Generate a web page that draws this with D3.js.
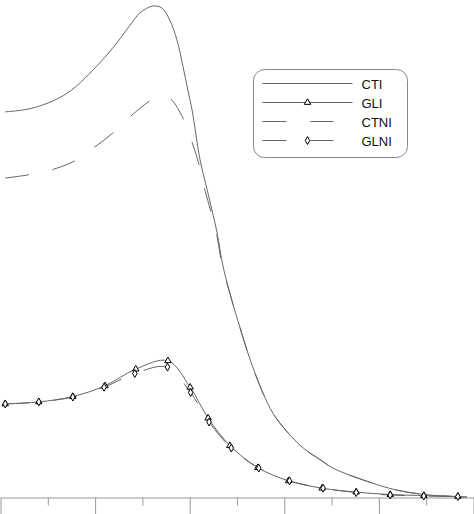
<!DOCTYPE html>
<html>
<head>
<meta charset="utf-8">
<script src="https://cdn.jsdelivr.net/npm/d3@7"></script>
<style>
  body { margin: 0; background: #fff; }
  svg { display: block; }
</style>
</head>
<body>
<svg id="chart"></svg>
<script>
// values; x in axis units (major tick every 2), y normalised to the CTI peak
var ctiX = [0.11, 0.70, 1.42, 2.11, 2.47, 2.75, 2.96, 3.23, 3.42, 3.59, 3.74, 3.87, 3.97, 4.06, 4.23, 4.38, 4.48,
            4.59, 4.71, 4.90, 5.07, 5.22, 5.39, 5.56, 5.77, 6.07, 6.41, 6.77, 7.04, 7.67, 8.39, 9.09, 9.87];
var ctiY = [0.786, 0.794, 0.824, 0.886, 0.927, 0.963, 0.988, 1.002, 0.998, 0.973, 0.933, 0.878, 0.831, 0.790, 0.688, 0.627, 0.586,
            0.539, 0.473, 0.402, 0.347, 0.300, 0.253, 0.212, 0.171, 0.133, 0.100, 0.076, 0.059, 0.035, 0.014, 0.004, 0.000];

var ctniX = [0.11, 0.57, 1.06, 1.54, 1.97, 2.39, 2.75, 3.13, 3.38, 3.59, 3.87, 4.06, 4.21, 4.33, 4.46, 4.59, 4.69,
             4.90, 5.07, 5.22, 5.39, 5.56, 5.77, 6.07, 6.41, 6.77, 7.04, 7.67, 8.39, 9.09, 9.87];
var ctniY = [0.651, 0.657, 0.667, 0.684, 0.712, 0.743, 0.776, 0.806, 0.820, 0.814, 0.773, 0.724, 0.678, 0.627, 0.582, 0.531, 0.476,
             0.402, 0.347, 0.300, 0.253, 0.212, 0.171, 0.133, 0.100, 0.076, 0.059, 0.035, 0.014, 0.004, 0.000];

var gliX = [0.11, 0.82, 1.54, 2.22, 2.87, 3.55, 4.02, 4.40, 4.86, 5.45, 6.10, 6.81, 7.53, 8.25, 8.96, 9.68];
var gliY = [0.190, 0.194, 0.205, 0.227, 0.261, 0.278, 0.224, 0.161, 0.105, 0.060, 0.033, 0.018, 0.010, 0.005, 0.003, 0.001];

var glniX = [0.11, 0.82, 1.54, 2.20, 2.85, 3.54, 4.03, 4.42, 4.89, 5.47, 6.12, 6.83, 7.53, 8.25, 8.96, 9.68];
var glniY = [0.190, 0.194, 0.204, 0.224, 0.252, 0.265, 0.213, 0.153, 0.100, 0.059, 0.033, 0.018, 0.009, 0.004, 0.002, 0.001];

var majorTicks = [0, 2, 4, 6, 8, 10];
var minorTicks = [1, 3, 5, 7, 9];

var seriesNames = ["CTI", "GLI", "CTNI", "GLNI"];

var svgWidth = 474, svgHeight = 514;
var lineColor = "#666";
var dash = "24,24";

var svg = d3.select("#chart")
    .attr("width", svgWidth)
    .attr("height", svgHeight);

var x = d3.scaleLinear().domain([0, 10]).range([0, 473]);
var y = d3.scaleLinear().domain([0, 1]).range([497, 7]);

function pairs(xs, ys) {
    return xs.map(function(d, i) { return [d, ys[i]]; });
}

var line = d3.line()
    .x(function(d) { return x(d[0]); })
    .y(function(d) { return y(d[1]); })
    .curve(d3.curveCatmullRom.alpha(0.5));

// axis: long major ticks, short minor ones, labels fall outside the frame
var axisG = svg.append("g")
    .attr("transform", "translate(0.5," + 497.5 + ")");

axisG.append("g")
    .call(d3.axisBottom(x).tickValues(majorTicks).tickSize(20).tickSizeOuter(0).tickFormat(""))
    .call(function(g) {
        g.select(".domain").attr("stroke", "#999");
        g.selectAll(".tick line").attr("stroke", "#999");
    });

axisG.append("g")
    .call(d3.axisBottom(x).tickValues(minorTicks).tickSize(8).tickSizeOuter(0).tickFormat(""))
    .call(function(g) {
        g.select(".domain").remove();
        g.selectAll(".tick line").attr("stroke", "#999");
    });

var series = [
    { name: "CTI",  data: pairs(ctiX, ctiY),   dash: null, marker: null },
    { name: "GLI",  data: pairs(gliX, gliY),   dash: null, marker: d3.symbolTriangle },
    { name: "CTNI", data: pairs(ctniX, ctniY), dash: dash, marker: null },
    { name: "GLNI", data: pairs(glniX, glniY), dash: dash, marker: d3.symbolDiamond }
];

var plot = svg.append("g");

series.forEach(function(s) {
    plot.append("path")
        .datum(s.data)
        .attr("fill", "none")
        .attr("stroke", lineColor)
        .attr("stroke-width", 1)
        .attr("stroke-dasharray", s.dash)
        .attr("d", line);
});

series.forEach(function(s) {
    if (!s.marker) return;
    plot.selectAll(null)
        .data(s.data)
        .enter().append("path")
        .attr("transform", function(d) { return "translate(" + x(d[0]) + "," + y(d[1]) + ")"; })
        .attr("d", d3.symbol().type(s.marker).size(18))
        .attr("fill", "#fff")
        .attr("stroke", "#000")
        .attr("stroke-width", 1);
});

// legend
var legend = svg.append("g").attr("transform", "translate(253.5,69.5)");

legend.append("rect")
    .attr("width", 154)
    .attr("height", 88)
    .attr("rx", 11)
    .attr("fill", "#fff")
    .attr("stroke", "#888");

var legendY = d3.scalePoint().domain(seriesNames).range([14, 71]);

series.forEach(function(s) {
    var g = legend.append("g").attr("transform", "translate(0," + legendY(s.name) + ")");
    if (s.dash) {
        g.append("line").attr("x1", 9).attr("x2", 33).attr("stroke", lineColor);
        g.append("line").attr("x1", 57).attr("x2", 80).attr("stroke", lineColor);
    } else {
        g.append("line").attr("x1", 9).attr("x2", 99).attr("stroke", lineColor);
    }
    if (s.marker) {
        g.append("path")
            .attr("transform", "translate(54,0)")
            .attr("d", d3.symbol().type(s.marker).size(18))
            .attr("fill", "#fff")
            .attr("stroke", "#000");
    }
    g.append("text")
        .attr("x", 108)
        .attr("y", 5)
        .attr("font-family", "'Liberation Sans', Arial, sans-serif")
        .attr("font-size", 13)
        .attr("fill", "#111")
        .text(s.name);
});
</script>
</body>
</html>
